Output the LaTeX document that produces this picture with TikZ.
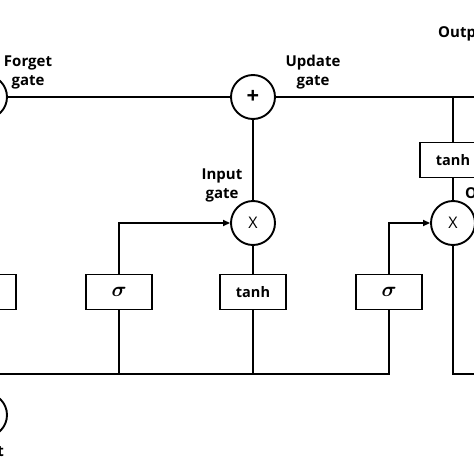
\documentclass[tikz,border=0pt]{standalone}
\usepackage{fontspec}
\usepackage{amsmath}
\setmainfont{Open Sans}
\usetikzlibrary{arrows.meta}
\newcommand{\sigsym}{{\fontsize{21}{21}\selectfont$\boldsymbol{\sigma}$}}
\begin{document}
\begin{tikzpicture}[x=1pt,y=-1pt,
  line/.style={line width=1.9pt, draw=black},
  op/.style={circle, draw, line width=1.9pt, minimum size=44pt, inner sep=0pt, font=\fontsize{16}{16}\selectfont},
  fnbox/.style={rectangle, draw, line width=1.9pt, minimum width=66pt, minimum height=35pt, inner sep=0pt, font=\bfseries\fontsize{14.5}{14.5}\selectfont},
  lbl/.style={align=center, font=\bfseries\fontsize{15}{19}\selectfont, inner sep=0pt},
  arr/.style={line, -{Triangle[length=7pt,width=6pt]}}
]
\useasboundingbox (0,0) rectangle (474,474);
\clip (0,0) rectangle (474,474);

\node[op] (fx) at (-15,97) {X};
\node[op] (plus) at (253,97) {\bfseries\fontsize{22}{22}\selectfont +};
\node[op] (ix) at (253,223) {X};
\node[op] (ox) at (453,223) {X};
\node[op] (bx) at (-15,415) {};
\node[fnbox] (lb) at (-17,292) {\sigsym};
\node[fnbox] (s1) at (119,292) {\sigsym};
\node[fnbox] (t1) at (253,292) {tanh};
\node[fnbox] (s2) at (389,292) {\sigsym};
\node[fnbox] (t2) at (453,160) {tanh};

\coordinate (topR) at (500,97);
\coordinate (bl) at (-60,374);
\coordinate (br) at (500,374);

\draw[line] (fx) -- (plus);
\draw[line] (plus) -- (topR);
\draw[line] (t2.north) -- (t2.north |- plus);
\draw[line] (plus) -- (ix);
\draw[arr] (s1.north) |- (ix.west);
\draw[line] (ix) -- (t1);
\draw[arr] (s2.north) |- (ox.west);
\draw[line] (t2) -- (ox);
\draw[line] (bl) -| (s2.south);
\draw[line] (s1.south) -- (s1.south |- bl);
\draw[line] (t1.south) -- (t1.south |- bl);
\draw[line] (lb.south) -- (lb.south |- bl);
\draw[line] (ox.south) |- (br);

\node[lbl] (lf) at (28,72) {Forget\\gate};
\node[lbl] (lu) at (313,72) {Update\\gate};
\node[lbl] (li) at (222,185) {Input\\gate};
\node[lbl, anchor=west] (lo) at (438,34) {Output};
\node[lbl, anchor=west] (lo2) at (465,195) {Output};
\node[lbl, anchor=east] (lx) at (4,453) {Input};
\end{tikzpicture}
\end{document}
